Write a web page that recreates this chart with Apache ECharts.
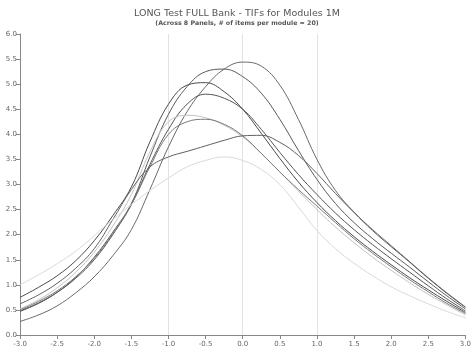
<!DOCTYPE html>
<html>
<head>
<meta charset="utf-8">
<script src="https://cdn.jsdelivr.net/npm/echarts@6/dist/echarts.min.js"></script>
<style>
  html, body { margin: 0; padding: 0; background: #fff; }
  #chart { width: 474px; height: 355px; }
</style>
</head>
<body>
<div id="chart"></div>
<script>
// theta points (ability scale)
const thetas = [-3, -2.75, -2.5, -2.25, -2, -1.75, -1.5, -1.25, -1, -0.75, -0.5, -0.25, 0,
  0.25, 0.5, 0.75, 1, 1.25, 1.5, 1.75, 2, 2.25, 2.5, 2.75, 3]

// TIF values per panel
const panelA = [0.27, 0.4, 0.58, 0.84, 1.16, 1.58, 2.1, 2.9, 3.75, 4.45, 4.95, 5.3, 5.44,
  5.36, 4.98, 4.3, 3.5, 2.88, 2.45, 2.1, 1.78, 1.46, 1.14, 0.84, 0.56]
const panelB = [0.47, 0.63, 0.85, 1.15, 1.55, 2.05, 2.62, 3.55, 4.4, 4.95, 5.25, 5.3, 5.15,
  4.82, 4.3, 3.68, 3.1, 2.62, 2.24, 1.92, 1.63, 1.35, 1.06, 0.78, 0.52]
const panelC = [0.75, 0.95, 1.18, 1.48, 1.88, 2.38, 2.95, 3.85, 4.6, 4.98, 5.03, 4.85, 4.5,
  4.02, 3.52, 3.05, 2.64, 2.28, 1.96, 1.67, 1.4, 1.14, 0.9, 0.67, 0.45]
const panelD = [0.48, 0.64, 0.85, 1.13, 1.5, 2.0, 2.6, 3.4, 4.1, 4.6, 4.8, 4.72, 4.5,
  4.1, 3.64, 3.2, 2.8, 2.43, 2.1, 1.8, 1.52, 1.25, 0.98, 0.72, 0.48]
const panelE = [0.52, 0.7, 0.94, 1.25, 1.65, 2.17, 2.8, 3.65, 4.25, 4.38, 4.33, 4.18, 3.95,
  3.62, 3.25, 2.87, 2.5, 2.15, 1.84, 1.55, 1.29, 1.04, 0.81, 0.6, 0.4]
const panelF = [0.5, 0.67, 0.88, 1.16, 1.53, 2.02, 2.6, 3.35, 4.0, 4.25, 4.3, 4.2, 3.97,
  3.62, 3.25, 2.9, 2.57, 2.24, 1.92, 1.63, 1.36, 1.1, 0.86, 0.63, 0.43]
const panelG = [0.62, 0.8, 1.03, 1.33, 1.72, 2.3, 2.9, 3.35, 3.55, 3.66, 3.77, 3.88, 3.97,
  3.98, 3.84, 3.58, 3.22, 2.82, 2.44, 2.08, 1.76, 1.45, 1.13, 0.83, 0.55]
const panelH = [1.0, 1.2, 1.42, 1.67, 1.98, 2.3, 2.6, 2.88, 3.13, 3.35, 3.48, 3.55, 3.48,
  3.3, 3.0, 2.55, 2.08, 1.72, 1.43, 1.18, 0.96, 0.78, 0.62, 0.47, 0.34]

const panels = [panelA, panelB, panelC, panelD, panelE, panelF, panelG, panelH]
const lineColors = ['#6a6a6a', '#5a5a5a', '#4a4a4a', '#555555', '#c4c4c4', '#7a7a7a', '#606060', '#dadada']
const gridLines = [-1, 0, 1]

const chart = echarts.init(document.getElementById('chart'))

const series = panels.map((vals, i) => {
  const s = {
    type: 'line',
    smooth: 0.4,
    symbol: 'none',
    lineStyle: { width: 1, color: lineColors[i] },
    data: thetas.map((t, k) => [t, vals[k]]),
    z: 3
  }
  if (i === 0) {
    s.markLine = {
      silent: true,
      symbol: 'none',
      label: { show: false },
      lineStyle: { color: '#e2e2e2', width: 1, type: 'solid' },
      data: gridLines.map(v => ({ xAxis: v })),
      z: 1
    }
  }
  return s
})

chart.setOption({
  animation: false,
  backgroundColor: '#fff',
  title: {
    text: 'LONG Test FULL Bank - TIFs for Modules 1M',
    subtext: '(Across 8 Panels, # of items per module = 20)',
    left: 'center',
    top: 4,
    itemGap: 1,
    textStyle: { fontFamily: 'DejaVu Sans', fontSize: 9.5, fontWeight: 'normal', color: '#555' },
    subtextStyle: { fontFamily: 'DejaVu Sans', fontSize: 6.3, fontWeight: 'bold', color: '#555' }
  },
  grid: { left: 20, right: 5, top: 34, bottom: 20 },
  xAxis: {
    type: 'value',
    min: -3,
    max: 3,
    interval: 0.5,
    axisLine: { onZero: false, lineStyle: { color: '#888' } },
    axisTick: { show: true, length: 4, lineStyle: { color: '#888' } },
    axisLabel: {
      fontFamily: 'DejaVu Sans',
      fontSize: 7,
      color: '#666',
      margin: 6,
      formatter: v => v.toFixed(1)
    },
    splitLine: { show: false }
  },
  yAxis: {
    type: 'value',
    min: 0,
    max: 6,
    interval: 0.5,
    axisLine: { show: true, onZero: false, lineStyle: { color: '#888' } },
    axisTick: { show: true, length: 4, lineStyle: { color: '#888' } },
    axisLabel: {
      fontFamily: 'DejaVu Sans',
      fontSize: 7,
      color: '#666',
      margin: 3,
      formatter: v => v.toFixed(1)
    },
    splitLine: { show: false }
  },
  series: series
})
</script>
</body>
</html>
